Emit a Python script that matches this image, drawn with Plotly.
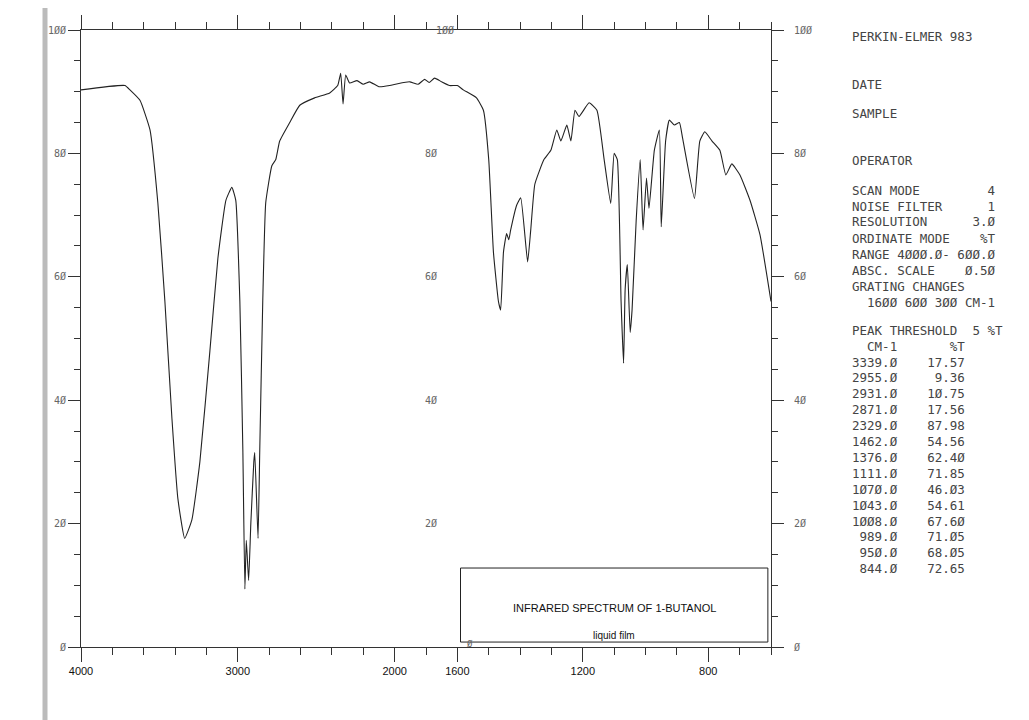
import plotly.graph_objects as go

wavenumber = [4000,3720,3688,3624,3560,3510,3465,3420,3382,3339,3293,3242,3178,3127,3076,3038,3013,2987,2968,2955,2946,2931,2917,2898,2892,2871,2860,2841,2822,2783,2758,2733,2669,2605,2510,2414,2363,2344,2329,2312,2287,2240,2200,2159,2100,2032,1980,1904,1850,1809,1780,1745,1700,1650,1600,1581,1539,1517,1500,1485,1469,1462,1453,1443,1436,1430,1411,1398,1376,1366,1353,1324,1302,1283,1270,1251,1238,1225,1212,1180,1155,1132,1111,1100,1090,1078,1070,1065,1058,1049,1043,1030,1017,1008,997,989,972,956,950,936,924,908,892,882,844,827,811,788,763,744,725,699,667,635,600]
transmittance = [90.3,91.0,90.3,88.6,83.8,72,56,37,24,17.6,20.6,30,48,63,72.4,74.5,72.4,56,32,9.4,17.3,10.8,20,30,31.5,17.6,32,56,72,78,79,82,85,87.8,89,89.8,91,93,88,92.7,91.4,91.8,91.2,91.6,90.8,91,91.3,91.6,91.2,92,91.5,92.2,91.6,91,91,90.3,89,87,79,64,56,54.6,64,67,66,67.6,71.6,72.8,62.4,67.6,75,79,80.5,83.8,82,84.6,82,87,86,88.2,87,79,71.9,80,79,56,46,58,62,51,54.6,69,79,67.6,76,71.1,80.5,83.8,68.1,82,85.4,84.6,85,82.5,72.7,82,83.5,82,80.5,76.5,78.3,76.5,72.4,66.8,56]

tick_wn = [4000,3000,2000,1600,1200,800]
tick_text = ["4000","3000","2000","1600","1200","800"]
y_ticks = [0,20,40,60,80,100]
y_text = ["Ø","2Ø","4Ø","6Ø","8Ø","1ØØ"]

def pos(w):
    return (4000 - w) if w >= 1600 else 2400 + (1600 - w) * 2

OFF = 8  # page body margin
L, R, T, B = 81, 771, 30, 647
def px(x): return (x - L) / (R - L)
def py(y): return (B - y) / (B - T)

xs = [pos(w) for w in wavenumber]
INK = "#333"
LBL = dict(family="DejaVu Sans Mono", size=10, color="#666")
fig = go.Figure(go.Scatter(x=xs, y=transmittance, mode="lines",
                           line=dict(color="#222", width=1.1, shape="spline", smoothing=0.4), hoverinfo="skip"))
fig.update_layout(
    width=1029, height=720,
    margin=dict(l=L - OFF, r=1029 - R + OFF, t=T - OFF, b=720 - B + OFF, autoexpand=False),
    paper_bgcolor="white", plot_bgcolor="white", showlegend=False,
    xaxis=dict(range=[0, pos(600)], tickvals=[pos(w) for w in tick_wn], ticktext=tick_text,
               ticks="outside", ticklen=14, tickcolor=INK, showgrid=False, zeroline=False,
               showline=True, linecolor=INK, mirror="ticks", automargin=False,
               tickfont=dict(family="Liberation Sans", size=11, color="#111"),
               minor=dict(dtick=200, ticks="outside", ticklen=7, tickcolor=INK)),
    yaxis=dict(range=[0, 100], tickvals=y_ticks, ticktext=y_text, ticks="outside", ticklen=12,
               tickcolor=INK, showgrid=False, zeroline=False, showline=True, linecolor=INK,
               mirror="ticks", automargin=False, tickfont=LBL,
               minor=dict(dtick=5, ticks="outside", ticklen=6, tickcolor=INK)),
)
for v, t in zip(y_ticks, y_text):
    fig.add_annotation(x=px(792), y=v, xref="paper", yref="y", text=t, showarrow=False, xanchor="left", font=LBL)
    if v > 0:
        fig.add_annotation(x=pos(1765) if v < 100 else pos(1680), y=v, xref="x", yref="y", text=t,
                           showarrow=False, font=LBL)
fig.add_annotation(x=pos(1575), y=0.5, text="Ø", showarrow=False, xanchor="left",
                   font=dict(family="DejaVu Sans Mono", size=9, color="#666"))
fig.add_shape(type="rect", x0=pos(1590), x1=pos(610), y0=0.8, y1=12.8, line=dict(color="#222", width=1))
fig.add_annotation(x=(pos(1590)+pos(610))/2, y=6.3, text="INFRARED SPECTRUM OF 1-BUTANOL", showarrow=False,
                   font=dict(family="Liberation Sans", size=11, color="#111"))
fig.add_annotation(x=(pos(1590)+pos(610))/2, y=1.9, text="liquid film", showarrow=False,
                   font=dict(family="Liberation Sans", size=10, color="#111"))
fig.add_shape(type="line", xref="paper", yref="paper", x0=px(45), x1=px(45), y0=py(720), y1=py(0),
              line=dict(color="#bbb", width=5))

panel = [
    (36, "PERKIN-ELMER 983"), (84, "DATE"), (114, "SAMPLE"), (160, "OPERATOR"),
    (190, "SCAN MODE         4"), (206, "NOISE FILTER      1"), (222, "RESOLUTION      3.Ø"),
    (238, "ORDINATE MODE    %T"), (254, "RANGE 4ØØØ.Ø- 6ØØ.Ø"), (270, "ABSC. SCALE    Ø.5Ø"),
    (286, "GRATING CHANGES"), (302, "  16ØØ 6ØØ 3ØØ CM-1"), (330, "PEAK THRESHOLD  5 %T"),
    (346, "  CM-1       %T"),
]
peaks = [("3339.Ø","17.57"),("2955.Ø"," 9.36"),("2931.Ø","1Ø.75"),("2871.Ø","17.56"),("2329.Ø","87.98"),
         ("1462.Ø","54.56"),("1376.Ø","62.4Ø"),("1111.Ø","71.85"),("1Ø7Ø.Ø","46.Ø3"),("1Ø43.Ø","54.61"),
         ("1ØØ8.Ø","67.6Ø"),(" 989.Ø","71.Ø5"),(" 95Ø.Ø","68.Ø5"),(" 844.Ø","72.65")]
for i, (a, b) in enumerate(peaks):
    panel.append((362 + 15.9 * i, f"{a}    {b}"))
for ypix, t in panel:
    fig.add_annotation(x=px(850), y=py(ypix), xref="paper", yref="paper", text=t.replace(" ", "&nbsp;"),
                       showarrow=False, xanchor="left", yanchor="middle",
                       font=dict(family="DejaVu Sans Mono", size=12.5, color="#444"))
fig.write_html("out.html")
